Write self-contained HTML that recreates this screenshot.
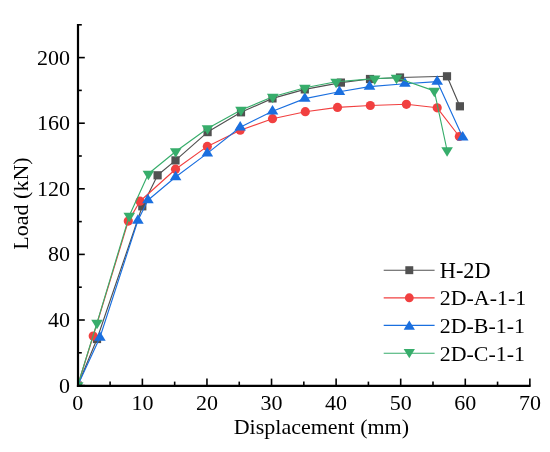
<!DOCTYPE html>
<html><head><meta charset="utf-8"><title>Load-Displacement</title>
<style>
html,body{margin:0;padding:0;background:#fff;}
body{width:550px;height:452px;overflow:hidden;}
svg{display:block;}
text{font-family:"Liberation Serif","Times New Roman",serif;fill:#000;}
</style></head><body>
<svg width="550" height="452" viewBox="0 0 550 452">
<rect width="550" height="452" fill="#fff"/>
<defs><clipPath id="plot"><rect x="77.7" y="20" width="460" height="365.5"/></clipPath></defs>

<g clip-path="url(#plot)">
<polyline points="77.7,385.5 97.0,339.0 142.3,206.3 157.6,175.3 175.5,160.4 207.6,132.1 241.0,112.3 272.5,98.4 304.8,89.4 340.9,82.6 370.0,79.0 400.0,77.5 447.0,76.3 459.9,106.3" fill="none" stroke="#515151" stroke-width="1.15" stroke-linejoin="round"/>
<rect x="73.60" y="381.40" width="8.20" height="8.20" fill="#515151"/>
<rect x="92.90" y="334.90" width="8.20" height="8.20" fill="#515151"/>
<rect x="138.20" y="202.20" width="8.20" height="8.20" fill="#515151"/>
<rect x="153.50" y="171.20" width="8.20" height="8.20" fill="#515151"/>
<rect x="171.40" y="156.30" width="8.20" height="8.20" fill="#515151"/>
<rect x="203.50" y="128.00" width="8.20" height="8.20" fill="#515151"/>
<rect x="236.90" y="108.20" width="8.20" height="8.20" fill="#515151"/>
<rect x="268.40" y="94.30" width="8.20" height="8.20" fill="#515151"/>
<rect x="300.70" y="85.30" width="8.20" height="8.20" fill="#515151"/>
<rect x="336.80" y="78.50" width="8.20" height="8.20" fill="#515151"/>
<rect x="365.90" y="74.90" width="8.20" height="8.20" fill="#515151"/>
<rect x="395.90" y="73.40" width="8.20" height="8.20" fill="#515151"/>
<rect x="442.90" y="72.20" width="8.20" height="8.20" fill="#515151"/>
<rect x="455.80" y="102.20" width="8.20" height="8.20" fill="#515151"/>
<polyline points="77.7,385.5 93.2,336.0 128.3,221.1 140.0,201.2 175.5,169.2 207.3,146.4 240.2,130.2 272.5,118.7 305.3,111.7 337.5,107.4 370.3,105.5 406.4,104.3 437.2,107.8 459.3,136.5" fill="none" stroke="#F14040" stroke-width="1.15" stroke-linejoin="round"/>
<circle cx="77.70" cy="385.50" r="4.60" fill="#F14040"/>
<circle cx="93.20" cy="336.00" r="4.60" fill="#F14040"/>
<circle cx="128.30" cy="221.10" r="4.60" fill="#F14040"/>
<circle cx="140.00" cy="201.20" r="4.60" fill="#F14040"/>
<circle cx="175.50" cy="169.20" r="4.60" fill="#F14040"/>
<circle cx="207.30" cy="146.40" r="4.60" fill="#F14040"/>
<circle cx="240.20" cy="130.20" r="4.60" fill="#F14040"/>
<circle cx="272.50" cy="118.70" r="4.60" fill="#F14040"/>
<circle cx="305.30" cy="111.70" r="4.60" fill="#F14040"/>
<circle cx="337.50" cy="107.40" r="4.60" fill="#F14040"/>
<circle cx="370.30" cy="105.50" r="4.60" fill="#F14040"/>
<circle cx="406.40" cy="104.30" r="4.60" fill="#F14040"/>
<circle cx="437.20" cy="107.80" r="4.60" fill="#F14040"/>
<circle cx="459.30" cy="136.50" r="4.60" fill="#F14040"/>
<polyline points="77.7,385.5 99.9,337.5 137.9,220.5 147.9,200.2 175.6,177.0 207.3,153.4 240.2,127.3 272.5,111.3 304.8,98.6 339.4,91.8 369.5,86.6 404.9,83.7 437.2,81.6 462.7,137.3" fill="none" stroke="#1A6FDF" stroke-width="1.15" stroke-linejoin="round"/>
<polygon points="71.90,388.67 83.50,388.67 77.70,379.17" fill="#1A6FDF"/>
<polygon points="94.10,340.67 105.70,340.67 99.90,331.17" fill="#1A6FDF"/>
<polygon points="132.10,223.67 143.70,223.67 137.90,214.17" fill="#1A6FDF"/>
<polygon points="142.10,203.37 153.70,203.37 147.90,193.87" fill="#1A6FDF"/>
<polygon points="169.80,180.17 181.40,180.17 175.60,170.67" fill="#1A6FDF"/>
<polygon points="201.50,156.57 213.10,156.57 207.30,147.07" fill="#1A6FDF"/>
<polygon points="234.40,130.47 246.00,130.47 240.20,120.97" fill="#1A6FDF"/>
<polygon points="266.70,114.47 278.30,114.47 272.50,104.97" fill="#1A6FDF"/>
<polygon points="299.00,101.77 310.60,101.77 304.80,92.27" fill="#1A6FDF"/>
<polygon points="333.60,94.97 345.20,94.97 339.40,85.47" fill="#1A6FDF"/>
<polygon points="363.70,89.77 375.30,89.77 369.50,80.27" fill="#1A6FDF"/>
<polygon points="399.10,86.87 410.70,86.87 404.90,77.37" fill="#1A6FDF"/>
<polygon points="431.40,84.77 443.00,84.77 437.20,75.27" fill="#1A6FDF"/>
<polygon points="456.90,140.47 468.50,140.47 462.70,130.97" fill="#1A6FDF"/>
<polyline points="77.7,385.5 97.0,322.8 129.3,215.8 148.4,173.8 175.7,151.5 207.5,128.5 241.0,110.0 272.7,96.8 304.9,87.8 336.1,81.8 374.7,78.6 396.5,77.8 434.3,90.9 447.1,150.5" fill="none" stroke="#37AD6B" stroke-width="1.15" stroke-linejoin="round"/>
<polygon points="71.90,382.33 83.50,382.33 77.70,391.83" fill="#37AD6B"/>
<polygon points="91.20,319.63 102.80,319.63 97.00,329.13" fill="#37AD6B"/>
<polygon points="123.50,212.63 135.10,212.63 129.30,222.13" fill="#37AD6B"/>
<polygon points="142.60,170.63 154.20,170.63 148.40,180.13" fill="#37AD6B"/>
<polygon points="169.90,148.33 181.50,148.33 175.70,157.83" fill="#37AD6B"/>
<polygon points="201.70,125.33 213.30,125.33 207.50,134.83" fill="#37AD6B"/>
<polygon points="235.20,106.83 246.80,106.83 241.00,116.33" fill="#37AD6B"/>
<polygon points="266.90,93.63 278.50,93.63 272.70,103.13" fill="#37AD6B"/>
<polygon points="299.10,84.63 310.70,84.63 304.90,94.13" fill="#37AD6B"/>
<polygon points="330.30,78.63 341.90,78.63 336.10,88.13" fill="#37AD6B"/>
<polygon points="368.90,75.43 380.50,75.43 374.70,84.93" fill="#37AD6B"/>
<polygon points="390.70,74.63 402.30,74.63 396.50,84.13" fill="#37AD6B"/>
<polygon points="428.50,87.73 440.10,87.73 434.30,97.23" fill="#37AD6B"/>
<polygon points="441.30,147.33 452.90,147.33 447.10,156.83" fill="#37AD6B"/>
</g>
<g stroke="#000" stroke-width="2.2" fill="none" stroke-linecap="butt">
<path d="M78.0 24.00 V386.90000000000003"/>
<path d="M76.9 385.8 H530.66"/>
</g>
<g stroke="#000" stroke-width="1.6" fill="none" stroke-linecap="butt">
<path d="M77.80 385.6 v-7.0"/>
<path d="M110.09 385.6 v-4.0"/>
<path d="M142.38 385.6 v-7.0"/>
<path d="M174.67 385.6 v-4.0"/>
<path d="M206.96 385.6 v-7.0"/>
<path d="M239.25 385.6 v-4.0"/>
<path d="M271.54 385.6 v-7.0"/>
<path d="M303.83 385.6 v-4.0"/>
<path d="M336.12 385.6 v-7.0"/>
<path d="M368.41 385.6 v-4.0"/>
<path d="M400.70 385.6 v-7.0"/>
<path d="M432.99 385.6 v-4.0"/>
<path d="M465.28 385.6 v-7.0"/>
<path d="M497.57 385.6 v-4.0"/>
<path d="M529.86 385.6 v-7.0"/>
<path d="M77.8 385.60 h7.0"/>
<path d="M77.8 352.80 h4.0"/>
<path d="M77.8 320.00 h7.0"/>
<path d="M77.8 287.20 h4.0"/>
<path d="M77.8 254.40 h7.0"/>
<path d="M77.8 221.60 h4.0"/>
<path d="M77.8 188.80 h7.0"/>
<path d="M77.8 156.00 h4.0"/>
<path d="M77.8 123.20 h7.0"/>
<path d="M77.8 90.40 h4.0"/>
<path d="M77.8 57.60 h7.0"/>
<path d="M77.8 24.80 h4.0"/>
</g>
<text x="77.8" y="410.3" font-size="22" text-anchor="middle">0</text>
<text x="142.4" y="410.3" font-size="22" text-anchor="middle">10</text>
<text x="207.0" y="410.3" font-size="22" text-anchor="middle">20</text>
<text x="271.5" y="410.3" font-size="22" text-anchor="middle">30</text>
<text x="336.1" y="410.3" font-size="22" text-anchor="middle">40</text>
<text x="400.7" y="410.3" font-size="22" text-anchor="middle">50</text>
<text x="465.3" y="410.3" font-size="22" text-anchor="middle">60</text>
<text x="529.9" y="410.3" font-size="22" text-anchor="middle">70</text>
<text x="70.1" y="392.5" font-size="22" text-anchor="end">0</text>
<text x="70.1" y="326.9" font-size="22" text-anchor="end">40</text>
<text x="70.1" y="261.3" font-size="22" text-anchor="end">80</text>
<text x="70.1" y="195.7" font-size="22" text-anchor="end">120</text>
<text x="70.1" y="130.1" font-size="22" text-anchor="end">160</text>
<text x="70.1" y="64.5" font-size="22" text-anchor="end">200</text>
<text x="321.4" y="433.9" font-size="22" text-anchor="middle">Displacement (mm)</text>
<text transform="translate(27.6 203.5) rotate(-90)" font-size="22" text-anchor="middle">Load (kN)</text>
<path d="M383.7 270.2 H434.6" stroke="#515151" stroke-width="1.15"/>
<rect x="405.32" y="266.22" width="7.95" height="7.95" fill="#515151"/>
<text x="439.8" y="278.2" font-size="22.3">H-2D</text>
<path d="M383.7 297.8 H434.6" stroke="#F14040" stroke-width="1.15"/>
<circle cx="409.30" cy="297.80" r="4.46" fill="#F14040"/>
<text x="439.8" y="304.8" font-size="21.9">2D-A-1-1</text>
<path d="M383.7 325.4 H434.6" stroke="#1A6FDF" stroke-width="1.15"/>
<polygon points="403.67,329.67 414.93,329.67 409.30,320.46" fill="#1A6FDF"/>
<text x="439.8" y="333.0" font-size="21.9">2D-B-1-1</text>
<path d="M383.7 353.2 H434.6" stroke="#37AD6B" stroke-width="1.15"/>
<polygon points="403.67,348.93 414.93,348.93 409.30,358.14" fill="#37AD6B"/>
<text x="439.8" y="360.8" font-size="21.9">2D-C-1-1</text>
</svg></body></html>
